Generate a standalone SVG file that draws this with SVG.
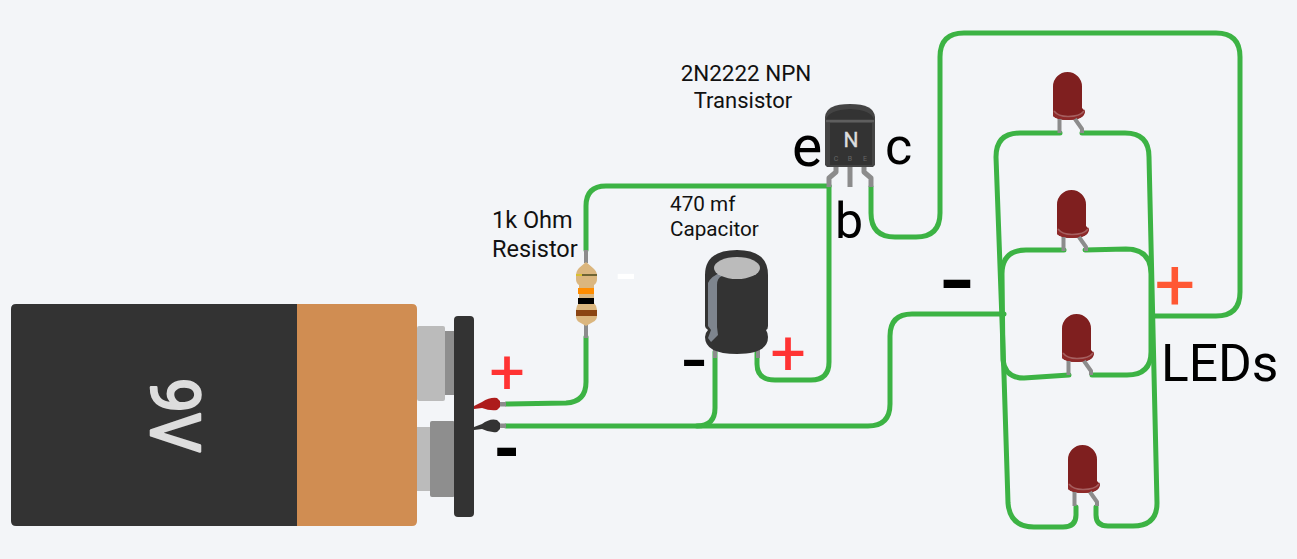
<svg xmlns="http://www.w3.org/2000/svg" width="1297" height="559" viewBox="0 0 1297 559">
<style>
text{font-family:Roboto,"Liberation Sans",sans-serif;fill:#000}
.lbl{fill:#111}
.big{font-size:50px}
.m{text-anchor:middle}
.w{fill:none;stroke:#3cb344;stroke-width:5;stroke-linecap:round;stroke-linejoin:round}
.lead{fill:none;stroke:#8c8c8c;stroke-width:4;stroke-linejoin:round}
.sym{text-anchor:middle}
</style>
<defs>
<g id="led">
<path d="M0 38V14.500A14.500 14.500 0 0 1 29 14.500V36L32 39Q32 48 15 48Q4 48 0 44Z" fill="#7f1f1f"/>
<path d="M0 37Q2 44 15 44Q30 44 32 37Q32 48 15 48Q4 48 0 44Z" fill="#8e2a2a"/>
<path d="M1 39Q5 44.500 15 44.500Q27 44.500 31 39" fill="none" stroke="#a55f5f" stroke-width="1.500"/>
<path class="lead" d="M6.500 47V61M22 47L29 57V61"/>
</g>
</defs>
<rect width="1297" height="559" fill="#f3f5f8"/>
<g id="connectors">
<path class="w" d="M506 404L566 403Q586 402 586 382V337"/>
<path class="w" d="M586 250V206Q586 186 606 186H829"/>
<path class="w" d="M829 186V362Q829 380 811 380H775Q757 380 757 364V352"/>
<path class="w" d="M871 187V213Q871 237 895 237H916Q940 237 940 213V57Q940 33 964 33H1216Q1240 33 1240 57V292Q1240 316 1216 316H1152"/>
<path class="w" d="M506 426H868Q890 426 890 404V336Q890 314 912 314H1004"/>
<path class="w" d="M715 352V408Q715 426 697 426"/>
<path class="w" d="M1060 133H1020Q996 133 996 157L1004 375L1008 503Q1010 527 1034 527H1063Q1076 527 1076 515V507"/>
<path class="w" d="M1082 133H1125Q1149 133 1149 157L1157 503Q1157 526 1133 526H1108Q1096 526 1096 515V507"/>
<path class="w" d="M1064 250H1026Q1002 250 1002 274L1003 360Q1005 378 1024 378L1069 375"/>
<path class="w" d="M1085 250L1126 249Q1151 249 1151 274V352Q1151 375 1127 375H1092"/>
</g>
<g id="battery">
<path d="M16 304H297V526H16Q11 526 11 521V309Q11 304 16 304Z" fill="#333"/>
<path d="M297 304H412Q417 304 417 309V521Q417 526 412 526H297Z" fill="#d08d52"/>
<rect x="417" y="326" width="28" height="75" rx="2" fill="#bbb"/>
<rect x="445" y="331" width="10" height="64" fill="#8e8e8e"/>
<rect x="417" y="427" width="14" height="64" fill="#bbb"/>
<rect x="430" y="421" width="25" height="76" rx="2" fill="#8e8e8e"/>
<rect x="454" y="316" width="20" height="201" rx="4" fill="#333"/>
<text transform="translate(151 378) rotate(90) scale(0.9 1)" font-size="69" style="fill:#ddd;stroke:#ddd;stroke-width:2.500;stroke-linejoin:round">9V</text>
<path d="M474 406L482 402Q490 397 497 398L500 401V407L497 410Q490 411 482 408L474 409Z" fill="#ad1c1c"/>
<rect x="500" y="402" width="6" height="4.500" fill="#8c8c8c"/>
<path d="M474 427L482 424Q490 418 497 420L500 423V429L497 432Q490 433 482 429L474 430Z" fill="#333"/>
<rect x="500" y="423.500" width="6" height="4.500" fill="#8c8c8c"/>
</g>
<g id="resistor">
<path class="lead" d="M586 250V263M586 325V338"/>
<path d="M586 262L593 268Q597 271 597 276V279Q597 283 594 285V303Q597 306 597 310V316Q597 320 593 322L586 326L579 322Q576 320 576 316V310Q576 306 579 303V285Q576 283 576 279V276Q576 271 579 268Z" fill="#dbb67e"/>
<rect x="576" y="274" width="21" height="2" fill="#6f6433"/>
<rect x="576" y="274" width="6" height="2" fill="#d8c030"/>
<rect x="578" y="288" width="16" height="6" fill="#ff8c00"/>
<rect x="578" y="298" width="16" height="6" fill="#000"/>
<rect x="576" y="310" width="21" height="6" fill="#8b4513"/>
</g>
<g id="capacitor">
<path class="lead" d="M715 346V358M758 346V358"/>
<path d="M705 275Q705 250 737 250Q768 250 768 275V326Q768 329 766 330Q768 333 768 337Q768 354 737 354Q705 354 705 337Q705 333 708 330Q705 328 705 326Z" fill="#333"/>
<path d="M708 283Q711 276 722 272V276Q717 278 717 285V327L718 335L711 342L708 338L711 330L708 326Z" fill="#7e858e"/>
<ellipse cx="737" cy="268" rx="23" ry="11" fill="#bbb"/>
</g>
<g id="transistor">
<path class="lead" style="stroke-width:5" d="M836 167V172L829 178V187M850 167V187M864 167V172L871 178V187"/>
<path d="M825 117Q826 104 850 104Q874 104 875 117V165L873 167H827L825 165Z" fill="#444"/>
<path d="M826 120Q828 110 850 109Q872 110 874 120Z" fill="#333"/>
<path d="M826 121H874" stroke="#5e5e5e" stroke-width="2.500"/>
<path d="M830 123H872V165H830Z" fill="#333"/>
<text class="m" x="851" y="147" font-size="21" style="fill:#ddd;stroke:#ddd;stroke-width:0.400">N</text>
<text class="m" x="836" y="161" font-size="7" style="fill:#666">C</text>
<text class="m" x="850" y="161" font-size="7" style="fill:#666">B</text>
<text class="m" x="865" y="161" font-size="7" style="fill:#666">E</text>
</g>
<g id="led1" transform="translate(1053 72)"><use href="#led"/></g>
<g id="led2" transform="translate(1057 190)"><use href="#led"/></g>
<g id="led3" transform="translate(1062 314)"><use href="#led"/></g>
<g id="led4" transform="translate(1068 445)"><use href="#led"/></g>
<g id="labels">
<text class="lbl m" x="746" y="81" font-size="22.400">2N2222 NPN</text>
<text class="lbl m" x="743" y="108" font-size="22">Transistor</text>
<text class="lbl" x="492" y="228" font-size="23.500">1k Ohm</text>
<text class="lbl" x="492" y="257" font-size="23.500">Resistor</text>
<text class="lbl" x="670" y="211" font-size="20.700">470 mf</text>
<text class="lbl" x="670" y="236" font-size="20.700">Capacitor</text>
<text x="792" y="166" font-size="57">e</text>
<text x="885" y="164" font-size="52">c</text>
<text class="big" x="835" y="238">b</text>
<text x="1161" y="381" font-size="51.500">LEDs</text>
<text class="sym" x="507" y="394" font-size="63" style="fill:#f33">+</text>
<text class="sym" x="788" y="375" font-size="63" style="fill:#f33">+</text>
<text class="sym" x="1175" y="309" font-size="72" style="fill:#ff5733">+</text>
<text class="sym" x="507" y="472" font-size="64" font-weight="900">-</text>
<text class="sym" x="694" y="388" font-size="84">-</text>
<text class="sym" x="957" y="318" font-size="112">-</text>
<text class="sym" x="626" y="297" font-size="68" style="fill:#fff">-</text>
</g>
</svg>
